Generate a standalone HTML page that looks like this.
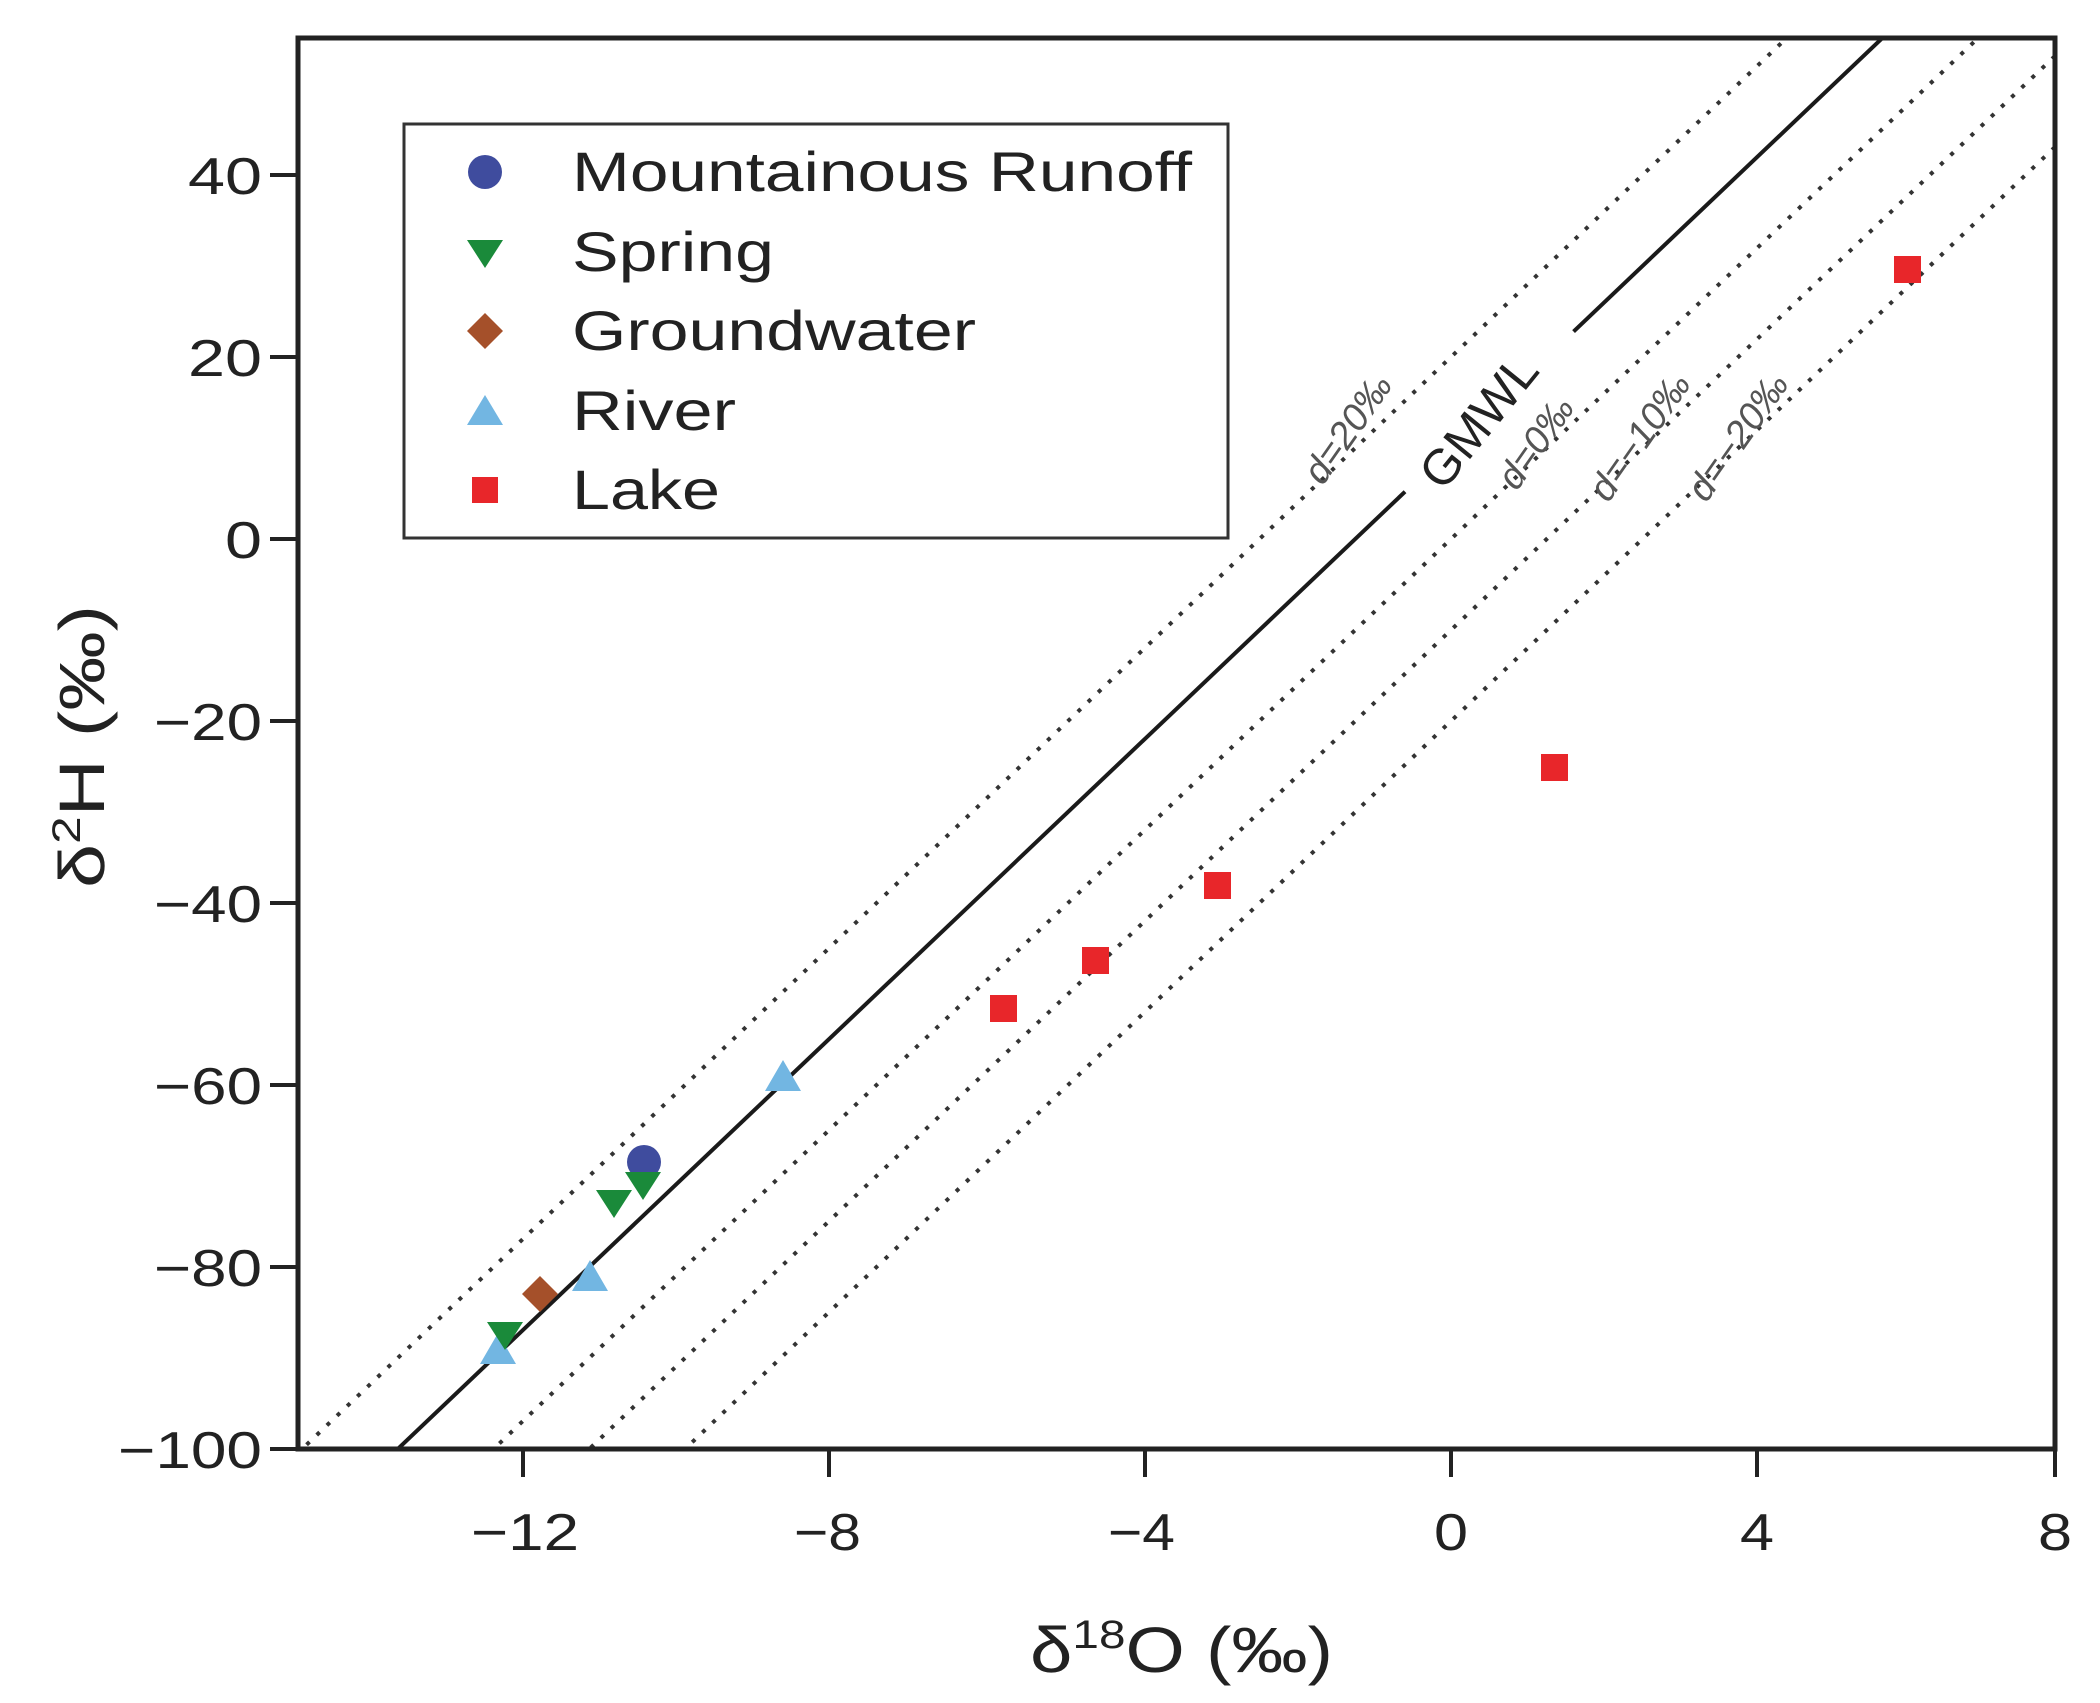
<!DOCTYPE html>
<html><head><meta charset="utf-8"><style>
html,body{margin:0;padding:0;background:#fff;overflow:hidden;width:2100px;height:1703px}
svg{display:block}
text{font-family:"Liberation Sans",sans-serif;fill:#222}
</style></head><body>
<svg width="2100" height="1703" viewBox="0 0 2100 1703" xmlns="http://www.w3.org/2000/svg">
<defs><clipPath id="c"><rect x="298" y="38" width="1757" height="1411"/></clipPath></defs>
<g clip-path="url(#c)">
<g transform="matrix(76.6 0 0 -9.1 1451 539)" fill="none">
<line x1="-16" y1="-108" x2="9" y2="92" stroke="#333" stroke-width="4" stroke-dasharray="4 10" vector-effect="non-scaling-stroke"/>
<line x1="-16" y1="-128" x2="9" y2="72" stroke="#333" stroke-width="4" stroke-dasharray="4 10" vector-effect="non-scaling-stroke"/>
<line x1="-16" y1="-138" x2="9" y2="62" stroke="#333" stroke-width="4" stroke-dasharray="4 10" vector-effect="non-scaling-stroke"/>
<line x1="-16" y1="-148" x2="9" y2="52" stroke="#333" stroke-width="4" stroke-dasharray="4 10" vector-effect="non-scaling-stroke"/>
<line x1="-16" y1="-118" x2="-0.6" y2="5.2" stroke="#1a1a1a" stroke-width="4" vector-effect="non-scaling-stroke"/>
<line x1="1.6" y1="22.8" x2="9" y2="82" stroke="#1a1a1a" stroke-width="4" vector-effect="non-scaling-stroke"/>
</g>
</g>
<g font-size="38">
<text x="1358" y="436" transform="rotate(-55 1358 436)" text-anchor="middle" style="font-style:italic;fill:#555">d=20‰</text>
<text x="1546" y="450" transform="rotate(-55 1546 450)" text-anchor="middle" style="font-style:italic;fill:#555">d=0‰</text>
<text x="1650" y="444" transform="rotate(-55 1650 444)" text-anchor="middle" style="font-style:italic;fill:#555">d=−10‰</text>
<text x="1748" y="444" transform="rotate(-55 1748 444)" text-anchor="middle" style="font-style:italic;fill:#555">d=−20‰</text>
</g>
<text x="1492" y="432" transform="rotate(-51 1492 432)" text-anchor="middle" font-size="50">GMWL</text>
<rect x="298" y="38" width="1757" height="1411" fill="none" stroke="#222" stroke-width="5"/>
<g stroke="#222" stroke-width="4">
<line x1="270" y1="175" x2="298" y2="175"/><line x1="270" y1="357" x2="298" y2="357"/>
<line x1="270" y1="539" x2="298" y2="539"/><line x1="270" y1="721" x2="298" y2="721"/>
<line x1="270" y1="903" x2="298" y2="903"/><line x1="270" y1="1085" x2="298" y2="1085"/>
<line x1="270" y1="1267" x2="298" y2="1267"/><line x1="270" y1="1449" x2="298" y2="1449"/>
<line x1="523" y1="1449" x2="523" y2="1477"/><line x1="829" y1="1449" x2="829" y2="1477"/>
<line x1="1145" y1="1449" x2="1145" y2="1477"/><line x1="1451" y1="1449" x2="1451" y2="1477"/>
<line x1="1757" y1="1449" x2="1757" y2="1477"/><line x1="2055" y1="1449" x2="2055" y2="1477"/>
</g>
<g font-size="52" text-anchor="end">
<text x="262" y="194" textLength="74" lengthAdjust="spacingAndGlyphs">40</text>
<text x="262" y="376" textLength="74" lengthAdjust="spacingAndGlyphs">20</text>
<text x="262" y="558" textLength="37" lengthAdjust="spacingAndGlyphs">0</text>
<text x="262" y="740" textLength="108" lengthAdjust="spacingAndGlyphs">−20</text>
<text x="262" y="922" textLength="108" lengthAdjust="spacingAndGlyphs">−40</text>
<text x="262" y="1104" textLength="108" lengthAdjust="spacingAndGlyphs">−60</text>
<text x="262" y="1286" textLength="108" lengthAdjust="spacingAndGlyphs">−80</text>
<text x="262" y="1468" textLength="144" lengthAdjust="spacingAndGlyphs">−100</text>
</g>
<g font-size="52">
<text x="471" y="1550" textLength="108" lengthAdjust="spacingAndGlyphs">−12</text>
<text x="794" y="1550" textLength="67" lengthAdjust="spacingAndGlyphs">−8</text>
<text x="1108" y="1550" textLength="67" lengthAdjust="spacingAndGlyphs">−4</text>
<text x="1434" y="1550" textLength="34" lengthAdjust="spacingAndGlyphs">0</text>
<text x="1740" y="1550" textLength="34" lengthAdjust="spacingAndGlyphs">4</text>
<text x="2038" y="1550" textLength="34" lengthAdjust="spacingAndGlyphs">8</text>
</g>
<text x="1030" y="1672" font-size="64" textLength="303" lengthAdjust="spacingAndGlyphs">δ<tspan dy="-24" font-size="40">18</tspan><tspan dy="24">O (‰)</tspan></text>
<text x="0" y="0" font-size="64" textLength="283" lengthAdjust="spacingAndGlyphs" transform="translate(104 888) rotate(-90)">δ<tspan dy="-24" font-size="40">2</tspan><tspan dy="24">H (‰)</tspan></text>
<rect x="404" y="124" width="824" height="414" fill="#fff" stroke="#333" stroke-width="3"/>
<circle cx="485" cy="172" r="17" fill="#3f4c9e"/>
<polygon points="467,240 503,240 485,268" fill="#1a8a3a"/>
<polygon points="485,313 503,331 485,349 467,331" fill="#a5502a"/>
<polygon points="467,425 503,425 485,395" fill="#72b6e2"/>
<rect x="472" y="477" width="26" height="26" fill="#e8262a"/>
<g font-size="56">
<text x="572" y="191" textLength="620" lengthAdjust="spacingAndGlyphs">Mountainous Runoff</text>
<text x="572" y="271" textLength="202" lengthAdjust="spacingAndGlyphs">Spring</text>
<text x="572" y="350" textLength="404" lengthAdjust="spacingAndGlyphs">Groundwater</text>
<text x="572" y="430" textLength="164" lengthAdjust="spacingAndGlyphs">River</text>
<text x="572" y="509" textLength="148" lengthAdjust="spacingAndGlyphs">Lake</text>
</g>
<g fill="#72b6e2">
<polygon points="480,1364 516,1364 498,1333"/>
<polygon points="572,1291 608,1291 590,1260"/>
<polygon points="765,1091 801,1091 783,1060"/>
</g>
<circle cx="644" cy="1162" r="17" fill="#3f4c9e"/>
<g fill="#1a8a3a">
<polygon points="596,1190 632,1190 614,1218"/>
<polygon points="625,1172 661,1172 643,1200"/>
<polygon points="487,1322 523,1322 505,1350"/>
</g>
<polygon points="540,1276 558,1294 540,1312 522,1294" fill="#a5502a"/>
<g fill="#e8262a">
<rect x="990" y="995" width="27" height="27"/>
<rect x="1082" y="947" width="27" height="27"/>
<rect x="1204" y="872" width="27" height="27"/>
<rect x="1541" y="754" width="27" height="27"/>
<rect x="1894" y="256" width="27" height="27"/>
</g>
</svg>
</body></html>
